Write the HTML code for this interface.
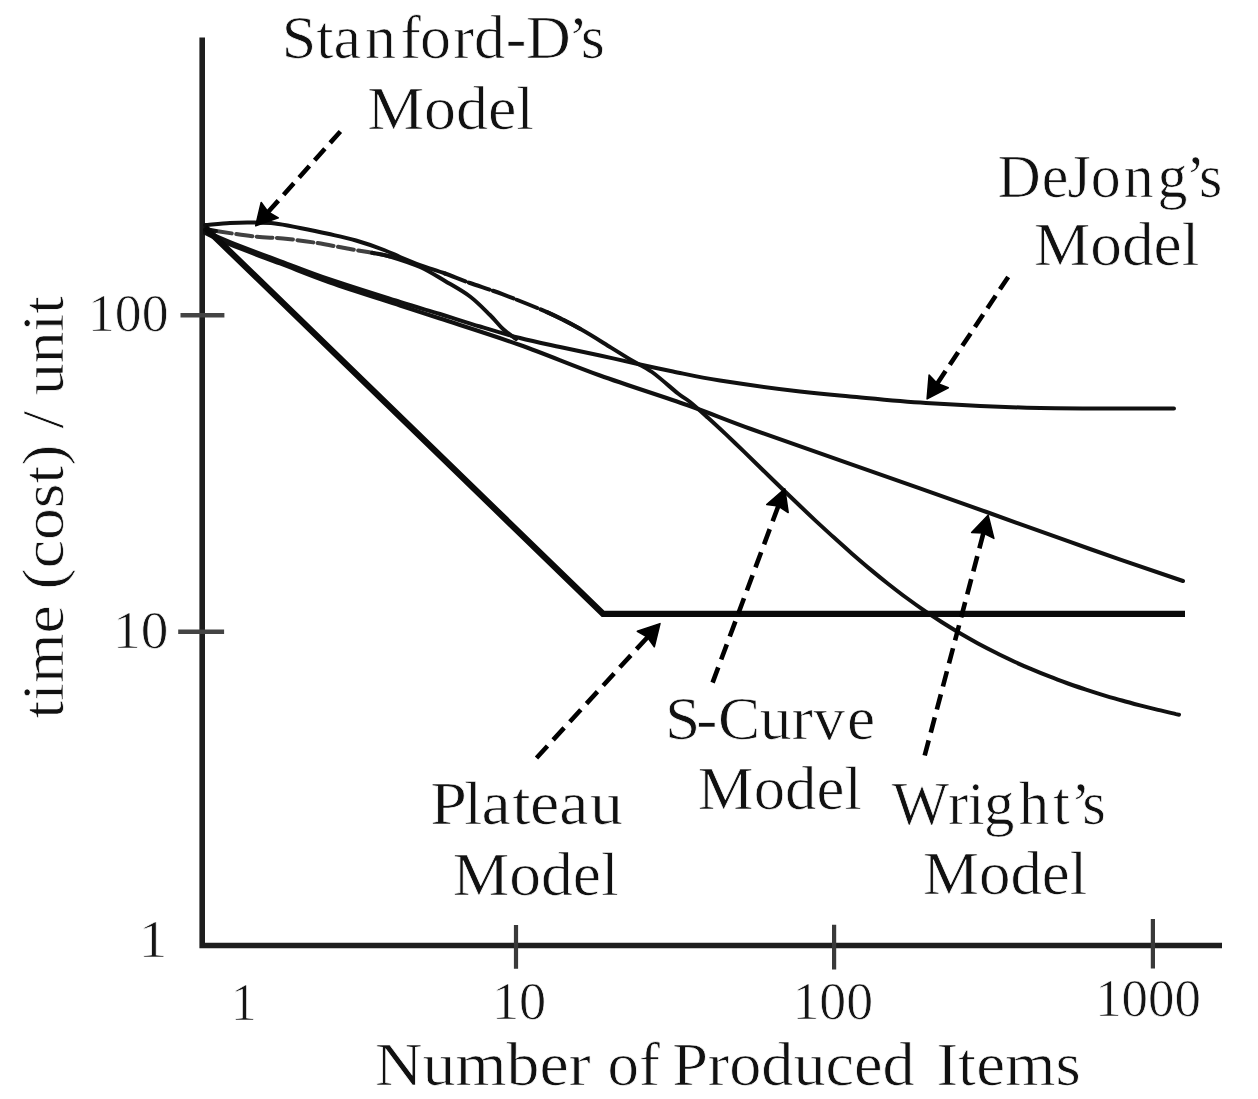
<!DOCTYPE html>
<html><head><meta charset="utf-8"><style>
html,body{margin:0;padding:0;background:#fff;}
svg{display:block;}
text{font-family:"Liberation Serif", serif;fill:#111;stroke:#fff;stroke-width:0.7px;paint-order:fill stroke;}
</style></head><body>
<svg width="1258" height="1099" viewBox="0 0 1258 1099">
<rect width="1258" height="1099" fill="#fff"/>

<path d="M202.2,37.5 L202.2,945.5 L1222,945.5" fill="none" stroke="#1e1e1e" stroke-width="5.6" stroke-linejoin="miter"/>
<path d="M180.5,315.3 L224.4,315.3 M178.2,631.7 L224.1,631.7" stroke="#444" stroke-width="4.6"/>
<path d="M516,925 L516,968.7 M834.1,924.8 L834.1,969.4 M1152.9,919.1 L1152.9,968.6" stroke="#3a3a3a" stroke-width="4.2"/>

<path d="M205.0,233.0 C209.2,234.9 217.5,239.4 230.0,244.5 C242.5,249.6 263.3,257.2 280.0,263.5 C296.7,269.8 310.0,275.5 330.0,282.5 C350.0,289.5 381.7,299.5 400.0,305.5 C418.3,311.5 420.0,311.9 440.0,318.5 C460.0,325.1 493.3,335.5 520.0,345.0 C546.7,354.5 572.2,365.5 600.0,375.5 C627.8,385.5 661.8,396.1 687.0,405.0 C712.2,413.9 723.8,419.2 751.0,429.0 C778.2,438.8 810.5,449.9 850.0,463.8 C889.5,477.7 948.0,498.3 988.0,512.5 C1028.0,526.7 1057.5,537.6 1090.0,549.0 C1122.5,560.4 1167.5,575.7 1183.0,581.0" fill="none" stroke="#111" stroke-width="4.0" stroke-linecap="round" stroke-linejoin="round"/>
<path d="M205.0,231.0 C209.2,232.8 217.5,237.0 230.0,242.0 C242.5,247.0 263.3,254.8 280.0,261.0 C296.7,267.2 310.0,272.7 330.0,279.5 C350.0,286.3 381.7,296.2 400.0,302.0 C418.3,307.8 426.7,309.9 440.0,314.0 C453.3,318.1 466.7,322.5 480.0,326.5 C493.3,330.5 506.7,334.6 520.0,338.0 C533.3,341.4 546.7,344.1 560.0,347.0 C573.3,349.9 586.7,352.6 600.0,355.5 C613.3,358.4 627.8,361.8 640.0,364.5 C652.2,367.2 659.7,368.8 673.0,371.5 C686.3,374.2 698.8,377.3 720.0,380.6 C741.2,383.9 778.3,388.9 800.0,391.5 C821.7,394.1 829.0,394.6 850.0,396.5 C871.0,398.4 897.5,401.2 926.0,403.0 C954.5,404.8 992.0,406.6 1021.0,407.5 C1050.0,408.4 1074.5,408.3 1100.0,408.5 C1125.5,408.7 1161.7,408.5 1174.0,408.5" fill="none" stroke="#111" stroke-width="4.0" stroke-linecap="round" stroke-linejoin="round"/>
<path d="M205.0,225.0 C209.2,224.7 222.5,223.4 230.0,223.0 C237.5,222.6 242.5,222.4 250.0,222.5 C257.5,222.6 266.7,222.6 275.0,223.5 C283.3,224.4 291.2,226.3 300.0,228.0 C308.8,229.7 318.7,231.7 328.0,233.8 C337.3,235.9 346.7,237.8 356.0,240.5 C365.3,243.2 376.7,247.2 384.0,250.0 C391.3,252.8 394.0,254.5 400.0,257.0 C406.0,259.5 412.5,262.2 420.0,265.0 C427.5,267.8 436.7,270.5 445.0,273.5" fill="none" stroke="#111" stroke-width="4.0" stroke-linecap="round" stroke-linejoin="round"/>
<path d="M445.0,273.5 C453.3,276.5 460.3,279.5 470.0,283.0 C479.7,286.5 490.2,289.5 503.0,294.4 C515.8,299.3 534.2,306.5 547.0,312.2 C559.8,317.9 569.3,322.9 580.0,328.8" fill="none" stroke="#111" stroke-width="4.0" stroke-linecap="round" stroke-linejoin="round" stroke-dasharray="22 3.5"/>
<path d="M547.0,312.2 C559.8,317.9 569.3,322.9 580.0,328.8 C590.7,334.7 602.5,342.4 611.0,347.6 C619.5,352.8 624.2,355.9 631.0,360.0 C637.8,364.1 644.2,366.4 652.0,372.0 C659.8,377.6 671.7,388.5 678.0,393.5 C684.3,398.5 685.0,397.9 690.0,402.0 C695.0,406.0 702.0,412.4 708.0,417.8 C714.0,423.2 720.0,428.8 726.0,434.4 C732.0,440.1 738.0,445.9 744.0,451.6 C750.0,457.4 756.0,463.3 762.0,469.2 C768.0,475.0 774.0,480.9 780.0,486.7 C786.0,492.5 792.0,498.3 798.0,504.0 C804.0,509.8 810.0,515.5 816.0,521.1 C822.0,526.6 828.0,532.2 834.0,537.6 C840.0,543.1 846.0,548.4 852.0,553.7 C858.0,558.9 864.0,564.1 870.0,569.1 C876.0,574.1 882.0,579.0 888.0,583.7 C894.0,588.4 900.0,593.1 906.0,597.5 C912.0,601.9 918.0,606.2 924.0,610.4 C930.0,614.5 936.0,618.4 942.0,622.3 C948.0,626.1 954.0,629.8 960.0,633.3 C966.0,636.8 972.0,640.2 978.0,643.5 C984.0,646.7 990.0,649.8 996.0,652.8 C1002.0,655.9 1008.0,658.7 1014.0,661.5 C1020.0,664.3 1026.0,666.9 1032.0,669.4 C1038.0,672.0 1044.0,674.4 1050.0,676.7 C1056.0,679.1 1062.0,681.3 1068.0,683.5 C1074.0,685.6 1080.0,687.7 1086.0,689.6 C1092.0,691.6 1098.0,693.5 1104.0,695.3 C1110.0,697.1 1116.0,698.9 1122.0,700.5 C1128.0,702.2 1134.0,703.8 1140.0,705.4 C1146.0,706.9 1152.0,708.4 1158.0,709.9 C1164.0,711.3 1172.5,713.2 1176.0,714.1 C1179.5,714.9 1178.5,714.6 1179.0,714.7" fill="none" stroke="#111" stroke-width="4.0" stroke-linecap="round" stroke-linejoin="round"/>
<path d="M205.0,229.0 C206.8,229.3 207.8,229.8 216.0,231.0" fill="none" stroke="#111" stroke-width="4.0" stroke-linecap="round" stroke-linejoin="round"/>
<path d="M216.0,231.0 C224.2,232.2 242.8,235.2 254.0,236.4 C265.2,237.7 273.0,237.5 283.0,238.5 C293.0,239.5 302.8,240.8 314.0,242.5 C325.2,244.2 340.3,247.3 350.0,249.0 C359.7,250.7 365.3,251.6 372.0,252.8 C378.7,254.1 382.0,254.1 390.0,256.5" fill="none" stroke="#111" stroke-width="4.0" stroke-linecap="round" stroke-linejoin="round" stroke-dasharray="16 4.5" stroke-linecap="butt" stroke-opacity="0.8"/>
<path d="M372.0,252.8 C378.7,254.1 382.0,254.1 390.0,256.5 C398.0,258.9 410.8,262.9 420.0,267.0 C429.2,271.1 436.7,276.1 445.0,281.0 C453.3,285.9 462.5,290.8 470.0,296.5 C477.5,302.2 484.5,309.6 490.0,315.0 C495.5,320.4 498.7,325.0 503.0,329.0 C507.3,333.0 513.8,337.3 516.0,339.0" fill="none" stroke="#111" stroke-width="4.0" stroke-linecap="round" stroke-linejoin="round"/>
<path d="M205,227.4 L603,613.8 L1185,613.8" fill="none" stroke="#0a0a0a" stroke-width="6.3" stroke-linejoin="miter"/>
<path d="M268.1,212.0 L340.4,131.5" stroke="#000" stroke-width="4.6" stroke-dasharray="15.32 7.90" fill="none"/>
<path d="M255.7,225.7 L261.2,202.4 L268.1,212.0 L278.3,217.8 Z" fill="#000" stroke="#000" stroke-width="1.5" stroke-linejoin="round"/>
<path d="M937.3,383.5 L1008.2,276.9" stroke="#000" stroke-width="4.6" stroke-dasharray="14.92 7.70" fill="none"/>
<path d="M927.1,398.9 L929.1,375.0 L937.3,383.5 L948.3,387.8 Z" fill="#000" stroke="#000" stroke-width="1.5" stroke-linejoin="round"/>
<path d="M647.5,637.2 L536.5,758.0" stroke="#000" stroke-width="4.6" stroke-dasharray="16.25 8.39" fill="none"/>
<path d="M660.0,623.6 L654.3,646.8 L647.5,637.2 L637.3,631.3 Z" fill="#000" stroke="#000" stroke-width="1.5" stroke-linejoin="round"/>
<path d="M778.3,506.1 L712.6,682.6" stroke="#000" stroke-width="4.6" stroke-dasharray="16.22 8.37" fill="none"/>
<path d="M784.8,488.8 L788.2,512.5 L778.3,506.1 L766.7,504.5 Z" fill="#000" stroke="#000" stroke-width="1.5" stroke-linejoin="round"/>
<path d="M983.4,533.1 L924.7,755.5" stroke="#000" stroke-width="4.6" stroke-dasharray="15.71 8.11" fill="none"/>
<path d="M988.1,515.2 L993.9,538.4 L983.4,533.1 L971.6,532.6 Z" fill="#000" stroke="#000" stroke-width="1.5" stroke-linejoin="round"/>
<text transform="scale(1.0274,1)" x="274.35 307.79 324.64 355.19 389.46 408.86 441.11 461.33 492.32 511.90 552.56 565.17" y="58.50" font-size="60.32">Stanford-D’s</text>
<text x="367.16" y="128.50" font-size="60.32" textLength="166.92" lengthAdjust="spacingAndGlyphs">Model</text>
<text transform="scale(0.9922,1)" x="1005.31 1050.07 1075.84 1099.21 1132.63 1166.67 1194.80 1208.38" y="196.60" font-size="60.32">DeJong’s</text>
<text x="1033.98" y="265.00" font-size="60.32" textLength="165.29" lengthAdjust="spacingAndGlyphs">Model</text>
<text transform="scale(1.0911,1)" x="394.36 425.19 441.21 469.53 485.77 512.52 540.74" y="824.30" font-size="60.32">Plateau</text>
<text x="452.87" y="894.80" font-size="60.32" textLength="165.80" lengthAdjust="spacingAndGlyphs">Model</text>
<text transform="scale(1.0501,1)" x="633.20 663.00 683.76 723.44 753.87 774.55 806.54" y="738.60" font-size="60.32">S-Curve</text>
<text x="697.89" y="808.80" font-size="60.32" textLength="163.97" lengthAdjust="spacingAndGlyphs">Model</text>
<text transform="scale(1.0071,1)" x="885.42 941.21 960.93 977.10 1011.63 1045.62 1062.99 1074.65" y="824.30" font-size="60.32">Wright’s</text>
<text x="922.99" y="894.00" font-size="60.32" textLength="164.27" lengthAdjust="spacingAndGlyphs">Model</text>
<text x="87.98" y="330.60" font-size="52.42" textLength="80.57" lengthAdjust="spacingAndGlyphs" style="fill:#151515">100</text>
<text x="113.14" y="647.50" font-size="52.42" textLength="55.26" lengthAdjust="spacingAndGlyphs" style="fill:#151515">10</text>
<text x="138.88" y="956.70" font-size="52.42" textLength="28.55" lengthAdjust="spacingAndGlyphs" style="fill:#151515">1</text>
<text x="230.73" y="1020.20" font-size="52.42" textLength="25.99" lengthAdjust="spacingAndGlyphs" style="fill:#151515">1</text>
<text x="491.92" y="1018.60" font-size="52.42" textLength="54.35" lengthAdjust="spacingAndGlyphs" style="fill:#151515">10</text>
<text x="792.48" y="1019.40" font-size="52.42" textLength="80.57" lengthAdjust="spacingAndGlyphs" style="fill:#151515">100</text>
<text x="1095.15" y="1015.80" font-size="52.42" textLength="105.76" lengthAdjust="spacingAndGlyphs" style="fill:#151515">1000</text>
<text x="375.11" y="1085.30" font-size="60.32" textLength="215.47" lengthAdjust="spacingAndGlyphs">Number</text>
<text x="607.60" y="1085.30" font-size="60.32" textLength="52.40" lengthAdjust="spacingAndGlyphs">of</text>
<text x="672.15" y="1085.30" font-size="60.32" textLength="242.43" lengthAdjust="spacingAndGlyphs">Produced</text>
<text x="936.45" y="1085.30" font-size="60.32" textLength="144.40" lengthAdjust="spacingAndGlyphs">Items</text>
<text transform="translate(63,717.8) rotate(-90)" x="-0.62" y="0" font-size="58.51" textLength="422.39" lengthAdjust="spacingAndGlyphs">time (cost) / unit</text>
</svg>
</body></html>
